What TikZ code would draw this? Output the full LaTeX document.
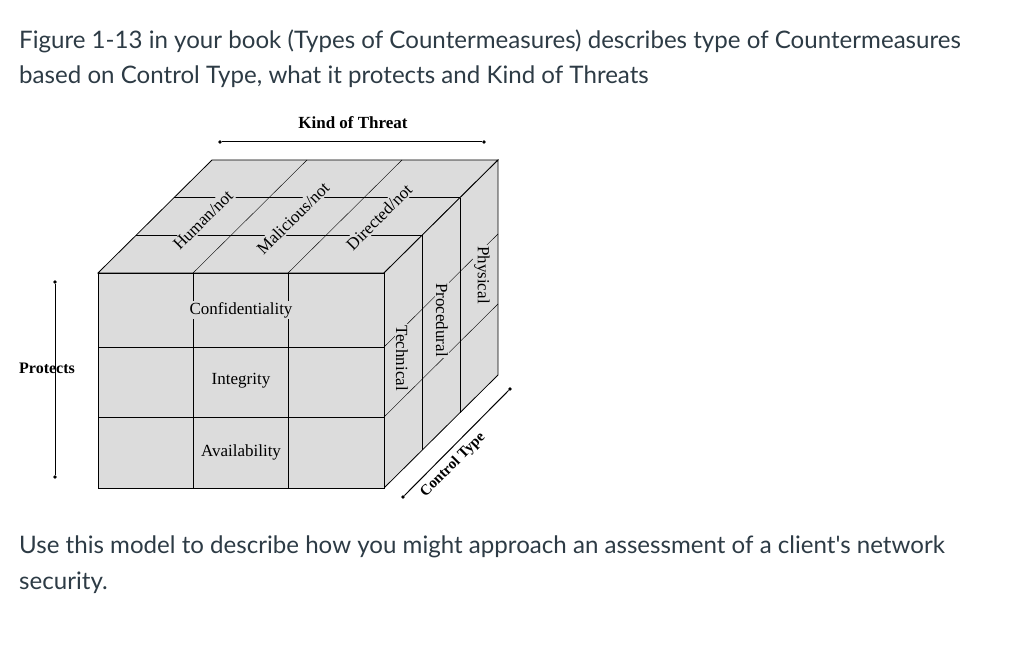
\documentclass[tikz,border=0pt]{standalone}
\usepackage{fontspec}
\setmainfont{Liberation Serif}
\newfontfamily\lato{Lato}
\definecolor{txt}{HTML}{2D3B45}
\definecolor{cubegray}{HTML}{DCDCDC}
\begin{document}
\begin{tikzpicture}[x=1pt,y=-1pt,
  cl/.style={font=\fontsize{17}{17}\selectfont, fill=cubegray, inner sep=1.5pt},
  para/.style={font=\lato\fontsize{24.1}{28}\selectfont, text=txt, anchor=west, inner sep=0pt},
  axis/.style={line width=1pt},
  dot/.style={circle, fill=black, inner sep=1.3pt}]
\useasboundingbox (0,0) rectangle (1024,647);
\node[para] (l1) at (19,41) {Figure 1-13 in your book (Types of Countermeasures) describes type of Countermeasures};
\node[para] (l2) at (19,77) {based on Control Type, what it protects and Kind of Threats};
\node[para] (l3) at (19,547) {Use this model to describe how you might approach an assessment of a client's network};
\node[para] (l4) at (19,583) {security.};
% cube faces
\def\dx{38}\def\dy{-37.7}
\fill[cubegray,draw=black,line width=0.8pt] (98,273) -- (384,273) -- (498,160) -- (212,160) -- cycle;
\fill[cubegray,draw=black,line width=0.8pt] (384,273) -- (498,160) -- (498,375) -- (384,488) -- cycle;
\fill[cubegray,draw=black,line width=0.8pt] (98,273) rectangle (384,488);
% front grid
\draw (98,347) -- (384,347) (98,417) -- (384,417) (193,273) -- (193,488) (288,273) -- (288,488);
% top grid
\foreach \i in {1,2}{
  \draw (98+\i*\dx,273+\i*\dy) -- (384+\i*\dx,273+\i*\dy);
  \draw (384+\i*\dx,273+\i*\dy) -- (384+\i*\dx,488+\i*\dy);
}
\draw (193,273) -- (307,160) (288,273) -- (402,160);
\draw (384,347) -- (498,234) (384,417) -- (498,304);
% labels
\node[cl] (c) at (241,310) {Confidentiality};
\node[cl] (i) at (241,381) {Integrity};
\node[cl] (a) at (241,452) {Availability};
\node[cl,rotate=45] (h) at (203,220) {Human/not};
\node[cl,rotate=45] (m) at (293,218) {Malicious/not};
\node[cl,rotate=45] (d) at (379,217) {Directed/not};
\node[cl,rotate=-90] (t) at (402,358) {Technical};
\node[cl,rotate=-90] (p) at (442,320) {Procedural};
\node[cl,rotate=-90] (ph) at (482,275) {Physical};
% axes
\node[dot] (k1) at (220,142) {}; \node[dot] (k2) at (484,142) {};
\draw[axis] (k1) -- (k2);
\node[font=\bfseries\fontsize{17}{17}\selectfont] (kt) at (353,123) {Kind of Threat};
\node[dot] (p1) at (55,282) {}; \node[dot] (p2) at (55,477) {};
\draw[axis] (p1) -- (p2);
\node[font=\bfseries\fontsize{16}{16}\selectfont, inner sep=0.5pt] (pt) at (47,368) {Protects};
\node[dot] (q1) at (403,497) {}; \node[dot] (q2) at (510,389) {};
\draw[axis] (q1) -- (q2);
\node[font=\bfseries\fontsize{15}{15}\selectfont, rotate=45] (ct) at (453,465) {Control Type};
\end{tikzpicture}
\end{document}
